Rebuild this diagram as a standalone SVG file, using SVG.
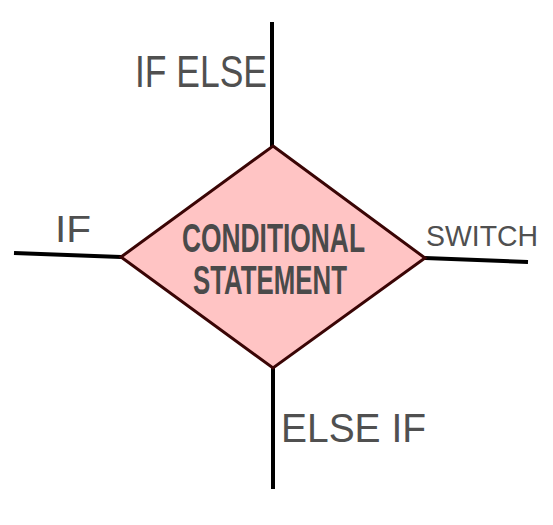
<svg xmlns="http://www.w3.org/2000/svg" width="553" height="525" viewBox="0 0 553 525">
<style>
.ln{stroke:#000;stroke-width:4;stroke-linecap:butt;fill:none}
.lb{font-family:"Liberation Sans",Arial,sans-serif;fill:#505050}
.ct{font-family:"Liberation Sans",Arial,sans-serif;font-weight:bold;fill:#4a4a4a;font-size:40px}
</style>
<rect width="553" height="525" fill="#fff"/>
<g id="connectors">
<line class="ln" x1="272" y1="22" x2="272" y2="147"/>
<line class="ln" x1="14" y1="253" x2="121" y2="257"/>
<line class="ln" x1="425" y1="258" x2="528" y2="262"/>
<line class="ln" x1="273" y1="367" x2="273" y2="489"/>
</g>
<g id="node-conditional">
<polygon points="273,146 425,258 273,368 121,257" fill="#ffc4c4" stroke="#3a0505" stroke-width="3" stroke-linejoin="miter"/>
<text class="ct" x="182" y="252" textLength="183" lengthAdjust="spacingAndGlyphs">CONDITIONAL</text>
<text class="ct" x="193" y="294" textLength="154" lengthAdjust="spacingAndGlyphs">STATEMENT</text>
</g>
<g id="label-ifelse">
<text class="lb" x="135" y="87" font-size="44" textLength="132" lengthAdjust="spacingAndGlyphs">IF ELSE</text>
</g>
<g id="label-if">
<text class="lb" x="55" y="242" font-size="37" textLength="36" lengthAdjust="spacingAndGlyphs">IF</text>
</g>
<g id="label-switch">
<text class="lb" x="426" y="246" font-size="29" textLength="112" lengthAdjust="spacingAndGlyphs">SWITCH</text>
</g>
<g id="label-elseif">
<text class="lb" x="281" y="442" font-size="40" textLength="145" lengthAdjust="spacingAndGlyphs">ELSE IF</text>
</g>
</svg>
